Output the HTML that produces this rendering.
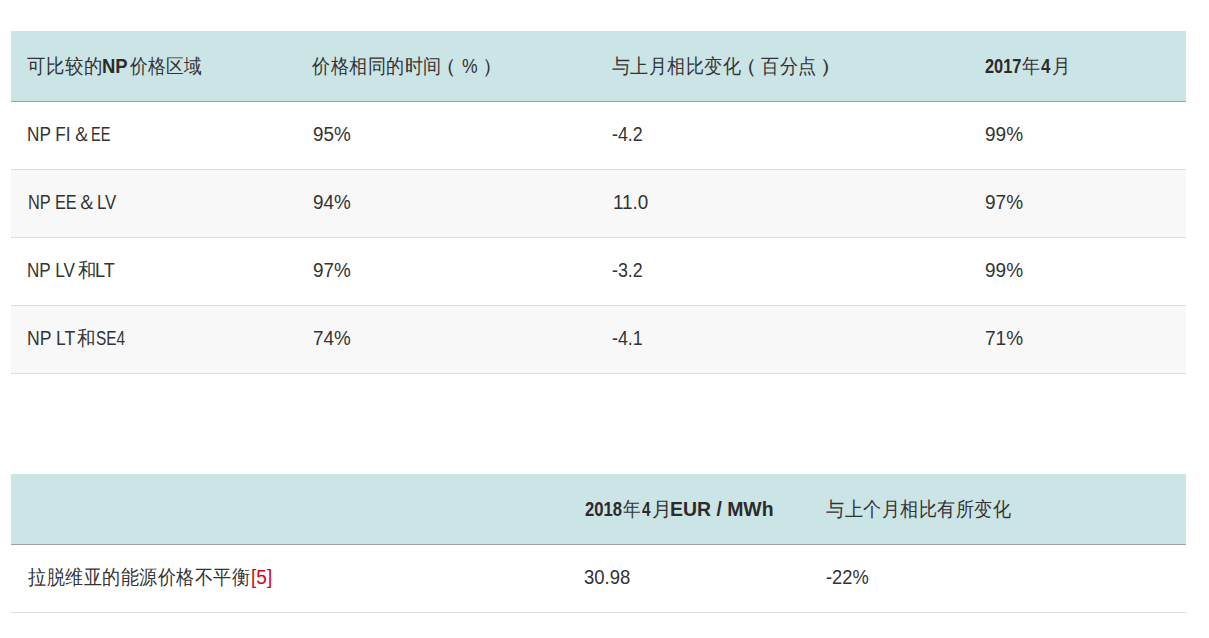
<!DOCTYPE html>
<html><head><meta charset="utf-8">
<style>
html,body{margin:0;padding:0;background:#fff;}
body{width:1209px;height:638px;position:relative;overflow:hidden;
 font-family:"Liberation Sans",sans-serif;font-size:18.67px;color:#333;}
.bx{position:absolute;left:11px;width:1175px;}
.hd{height:70px;background:#cbe4e5;border-bottom:1px solid #a0a0a0;}
.rw{height:67px;background:#fff;border-bottom:1px solid #ddd;}
.alt{background:#f8f8f8;}
.t{position:absolute;white-space:nowrap;line-height:24px;transform-origin:0 18px;}
</style></head><body>
<div class="bx hd" style="top:31px;"></div>
<div class="bx rw" style="top:102px;"></div>
<div class="bx rw alt" style="top:170px;"></div>
<div class="bx rw" style="top:238px;"></div>
<div class="bx rw alt" style="top:306px;"></div>
<div class="bx hd" style="top:474px;"></div>
<div class="bx rw" style="top:545px;"></div>
<div class="t" style="left:27.00px;top:55.00px;transform:scale(0.9933,1.0800);">可比较的</div>
<div class="t" style="left:102.01px;top:55.00px;transform:scale(0.9880,1.1200);font-weight:bold;color:#2b2b2b;">NP</div>
<div class="t" style="left:129.70px;top:55.00px;transform:scale(0.9539,1.0800);">价格区域</div>
<div class="t" style="left:312.40px;top:55.00px;transform:scale(0.9765,1.0800);">价格相同的时间</div>
<div class="t" style="left:434.46px;top:55.00px;transform:scale(1.2200,1.0800);">（</div>
<div class="t" style="left:462.10px;top:55.00px;transform:scale(0.9412,1.0770);">%</div>
<div class="t" style="left:482.45px;top:55.00px;transform:scale(1.1500,1.0800);">）</div>
<div class="t" style="left:612.40px;top:55.00px;transform:scale(0.9729,1.0800);">与上月相比变化</div>
<div class="t" style="left:733.58px;top:55.00px;transform:scale(1.2600,1.0800);">（</div>
<div class="t" style="left:761.40px;top:55.00px;transform:scale(0.9750,1.0800);">百分点</div>
<div class="t" style="left:818.67px;top:55.00px;transform:scale(1.3750,1.0800);">）</div>
<div class="t" style="left:985.00px;top:55.00px;transform:scale(0.8780,1.1200);font-weight:bold;color:#2b2b2b;">2017</div>
<div class="t" style="left:1022.00px;top:55.00px;transform:scale(0.9737,1.0800);">年</div>
<div class="t" style="left:1041.00px;top:55.00px;transform:scale(0.9091,1.1200);font-weight:bold;color:#2b2b2b;">4</div>
<div class="t" style="left:1052.00px;top:55.00px;transform:scale(1.0000,1.0800);">月</div>
<div class="t" style="left:27.28px;top:123.00px;transform:scale(0.9200,1.0770);">NP FI</div>
<div class="t" style="left:71.55px;top:123.00px;transform:scale(1.0154,1.0800);">＆</div>
<div class="t" style="left:90.62px;top:123.00px;transform:scale(0.7792,1.0770);">EE</div>
<div class="t" style="left:312.80px;top:123.00px;transform:scale(1.0108,1.0770);">95%</div>
<div class="t" style="left:612.40px;top:123.00px;transform:scale(0.9563,1.0770);">-4.2</div>
<div class="t" style="left:985.40px;top:123.00px;transform:scale(1.0189,1.0770);">99%</div>
<div class="t" style="left:27.52px;top:191.00px;transform:scale(0.8764,1.0770);">NP EE</div>
<div class="t" style="left:77.38px;top:191.00px;transform:scale(1.0385,1.0800);">＆</div>
<div class="t" style="left:96.50px;top:191.00px;transform:scale(0.9000,1.0770);">LV</div>
<div class="t" style="left:312.80px;top:191.00px;transform:scale(1.0108,1.0770);">94%</div>
<div class="t" style="left:612.59px;top:191.00px;transform:scale(1.0118,1.0770);">11.0</div>
<div class="t" style="left:985.40px;top:191.00px;transform:scale(1.0189,1.0770);">97%</div>
<div class="t" style="left:27.48px;top:259.00px;transform:scale(0.9154,1.0770);">NP LV</div>
<div class="t" style="left:77.60px;top:259.00px;transform:scale(0.9889,1.0800);">和</div>
<div class="t" style="left:95.43px;top:259.00px;transform:scale(0.9700,1.0770);">LT</div>
<div class="t" style="left:312.80px;top:259.00px;transform:scale(1.0108,1.0770);">97%</div>
<div class="t" style="left:612.40px;top:259.00px;transform:scale(0.9563,1.0770);">-3.2</div>
<div class="t" style="left:985.40px;top:259.00px;transform:scale(1.0189,1.0770);">99%</div>
<div class="t" style="left:27.46px;top:327.00px;transform:scale(0.9440,1.0770);">NP LT</div>
<div class="t" style="left:77.00px;top:327.00px;transform:scale(1.0000,1.0800);">和</div>
<div class="t" style="left:96.00px;top:327.00px;transform:scale(0.8250,1.0770);">SE4</div>
<div class="t" style="left:312.80px;top:327.00px;transform:scale(1.0108,1.0770);">74%</div>
<div class="t" style="left:612.40px;top:327.00px;transform:scale(0.9563,1.0770);">-4.1</div>
<div class="t" style="left:985.40px;top:327.00px;transform:scale(1.0189,1.0770);">71%</div>
<div class="t" style="left:584.50px;top:498.00px;transform:scale(0.8929,1.1200);font-weight:bold;color:#2b2b2b;">2018</div>
<div class="t" style="left:623.00px;top:498.00px;transform:scale(0.9474,1.0800);">年</div>
<div class="t" style="left:642.00px;top:498.00px;transform:scale(0.8182,1.1200);font-weight:bold;color:#2b2b2b;">4</div>
<div class="t" style="left:652.00px;top:498.00px;transform:scale(1.0667,1.0800);">月</div>
<div class="t" style="left:669.96px;top:498.00px;transform:scale(1.0408,1.1200);font-weight:bold;color:#2b2b2b;">EUR / MWh</div>
<div class="t" style="left:826.00px;top:498.00px;transform:scale(0.9763,1.0800);">与上个月相比有所变化</div>
<div class="t" style="left:27.50px;top:566.00px;transform:scale(0.9759,1.0800);">拉脱维亚的能源价格不平衡</div>
<div class="t" style="left:250.78px;top:566.00px;transform:scale(1.0211,1.0770);color:#e2001a;">[5]</div>
<div class="t" style="left:584.40px;top:566.00px;transform:scale(0.9913,1.0770);">30.98</div>
<div class="t" style="left:826.40px;top:566.00px;transform:scale(0.9818,1.0770);">-22%</div>
</body></html>
